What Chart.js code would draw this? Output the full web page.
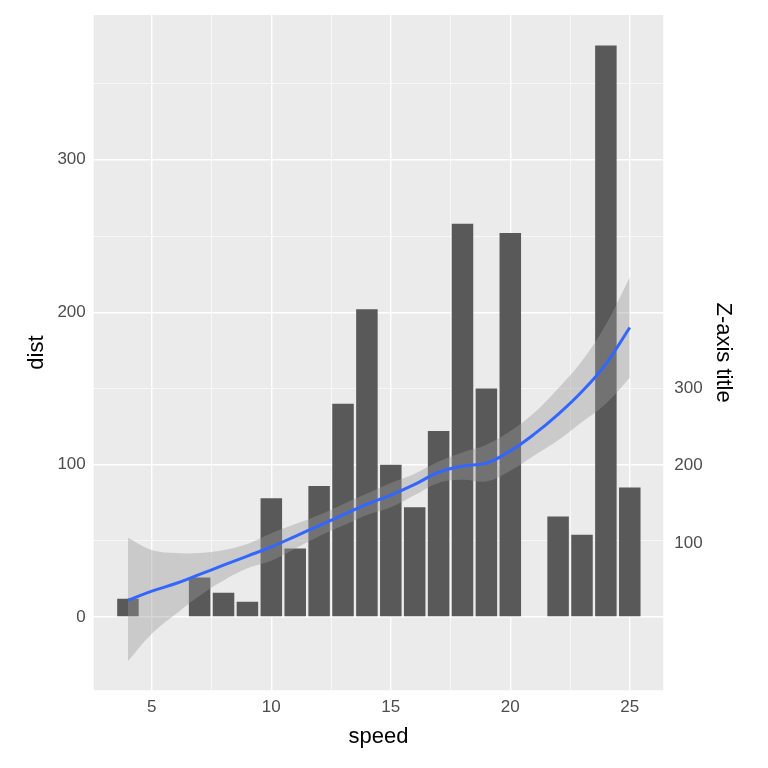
<!DOCTYPE html>
<html><head><script src="https://cdn.jsdelivr.net/npm/chart.js@4"></script>
<style>body{margin:0;background:#fff}#w{width:768px;height:768px}</style></head>
<body><div id="w"><canvas id="c"></canvas></div>
<script>
const speeds=[4,7,8,9,10,11,12,13,14,15,16,17,18,19,20,22,23,24,25];
const distSum=[12,26,16,10,78,45,86,140,202,100,72,122,258,150,252,66,54,375,85];
const fitX=[4,5,6,7,8,9,10,11,12,13,14,15,16,17,18,19,20,21,22,23,24,25];
const fitY=[11,17,22,28,34,40,46,53,60,67,74,80,87,95,99,101,109,120,133,148,166,190];
const fitHi=[52,44,42,42,44,48,55,61,67,74,81,88,94,102,108,113,122,134,150,168,192,223];
const fitLo=[-29,-11,2,14,24,32,37,45,53,60,67,72,80,88,90,89,96,106,116,128,140,157];
const xTicks=[5,10,15,20,25];
const pts=(xs,ys)=>xs.map((x,i)=>({x,y:ys[i]}));
Chart.defaults.font.family="'Liberation Sans', Arial, sans-serif";
const bg={id:'bg',beforeDraw(c){const a=c.chartArea,g=c.ctx;g.save();g.fillStyle='#EBEBEB';g.fillRect(a.left,a.top,a.right-a.left,a.bottom-a.top);g.restore();}};
const gridW=(major)=>ctx=>(ctx.tick&&ctx.tick.value%major===0)?1.4:0.6;
new Chart(document.getElementById('c'),{
 plugins:[bg],
 data:{datasets:[
  {type:'line',data:pts(fitX,fitY),borderColor:'#3366FF',borderWidth:3,pointRadius:0,tension:0.4,order:1,yAxisID:'y'},
  {type:'line',data:pts(fitX,fitHi),borderWidth:0,pointRadius:0,tension:0.4,fill:'+1',backgroundColor:'rgba(153,153,153,0.4)',order:2,yAxisID:'y'},
  {type:'line',data:pts(fitX,fitLo),borderWidth:0,pointRadius:0,tension:0.4,fill:false,order:2,yAxisID:'y'},
  {type:'bar',data:pts(speeds,distSum),backgroundColor:'#595959',barPercentage:0.9,categoryPercentage:1,order:3,yAxisID:'y'}
 ]},
 options:{responsive:true,maintainAspectRatio:false,animation:false,
  layout:{padding:{left:20,right:28,top:15,bottom:14}},
  plugins:{legend:{display:false},tooltip:{enabled:false}},
  scales:{
   x:{type:'linear',offset:false,min:2.57,max:26.4,afterBuildTicks(s){s.ticks=[2.5,5,7.5,10,12.5,15,17.5,20,22.5,25].map(v=>({value:v}));},
     ticks:{callback:v=>xTicks.includes(v)?v:'',font:{size:17},color:'#4D4D4D',autoSkip:false,maxRotation:0,padding:2},
     grid:{offset:false,color:'#fff',lineWidth:gridW(5),drawTicks:true,tickLength:5},border:{display:false},
     title:{display:true,text:'speed',font:{size:22},color:'#000',padding:{top:4}}},
   y:{min:-48,max:395,afterBuildTicks(s){s.ticks=[-50,0,50,100,150,200,250,300,350].filter(v=>v>=-48).map(v=>({value:v}));},
     ticks:{callback:v=>v%100===0?v:'',font:{size:17},color:'#4D4D4D',autoSkip:false},
     grid:{color:'#fff',lineWidth:gridW(100),tickLength:5},border:{display:false},
     title:{display:true,text:'dist',font:{size:22},color:'#000'}},
   y2:{position:'right',min:-91,max:784,afterBuildTicks(s){s.ticks=[100,200,300].map(v=>({value:v}));},
     ticks:{font:{size:17},color:'#4D4D4D'},grid:{display:false},border:{display:false},
     title:{display:true,text:'Z-axis title',font:{size:22},color:'#000'}}
  }}
});
</script></body></html>
